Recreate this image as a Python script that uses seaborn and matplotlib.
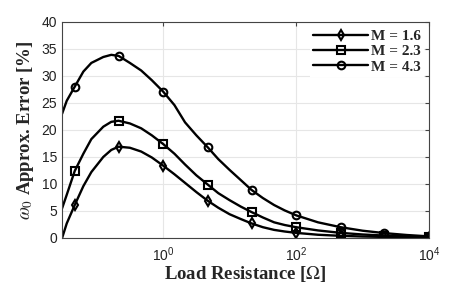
import numpy as np
import pandas as pd
import seaborn as sns
import matplotlib
matplotlib.use("Agg")
import matplotlib.pyplot as plt

# log10 of load resistance where the curves were read
log_r = [-1.52, -1.45, -1.33, -1.2, -1.08, -0.9, -0.78, -0.67, -0.5, -0.33, -0.17,
         0.0, 0.17, 0.33, 0.5, 0.67, 0.83, 1.0, 1.17, 1.33, 1.5, 1.67, 1.83,
         2.0, 2.33, 2.67, 3.0, 3.33, 3.67, 4.0]

err_m16 = [0.0, 2.7, 6.1, 9.6, 12.2, 15.0, 16.3, 16.9, 16.7, 16.0, 14.9,
           13.4, 11.8, 10.2, 8.5, 6.9, 5.6, 4.4, 3.5, 2.7, 2.0, 1.5, 1.2,
           0.95, 0.6, 0.4, 0.27, 0.2, 0.12, 0.08]
err_m23 = [5.5, 8.0, 12.4, 15.6, 18.3, 20.6, 21.5, 21.7, 21.2, 20.3, 19.0,
           17.4, 15.6, 13.6, 11.6, 9.9, 8.3, 7.0, 5.8, 4.8, 3.8, 2.9, 2.4,
           2.0, 1.4, 0.95, 0.65, 0.45, 0.3, 0.2]
err_m43 = [23.0, 25.4, 28.0, 30.8, 32.4, 33.5, 33.9, 33.7, 32.4, 31.0, 29.2,
           27.1, 24.6, 21.4, 19.0, 16.8, 14.6, 12.6, 10.7, 8.9, 7.4, 6.1, 5.1,
           4.2, 2.9, 2.0, 1.35, 0.9, 0.55, 0.3]

labels = ["M = 1.6", "M = 2.3", "M = 4.3"]
markers = ["d", "s", "o"]
mark_at = [-1.33, -0.67, 0.0, 0.67, 1.33, 2.0, 2.67, 3.33, 4.0]

r = 10 ** np.array(log_r)
mark_idx = [log_r.index(v) for v in mark_at]

sns.set_style("whitegrid")
plt.rcParams["mathtext.fontset"] = "stix"

fig = plt.figure(figsize=(4.74, 2.84), dpi=100)
ax = fig.add_axes([0.131, 0.162, 0.774, 0.761])

for lab, mk, ys in zip(labels, markers, [err_m16, err_m23, err_m43]):
    df = pd.DataFrame({"r": r, "err": ys})
    sns.lineplot(data=df, x="r", y="err", ax=ax, color="black", lw=1.7,
                 marker=mk, markevery=mark_idx, markersize=5.5,
                 markerfacecolor="none", markeredgecolor="black",
                 markeredgewidth=1.5, label=lab)

ax.set_xscale("log")
ax.set_xlim(10 ** -1.52, 1e4)
ax.set_ylim(0, 40)
ax.set_xticks([1, 1e2, 1e4])
ax.set_yticks(range(0, 41, 5))
ax.minorticks_off()
ax.grid(True, color="#e6e6e6", lw=0.8)
for s in ax.spines.values():
    s.set_color("#444444")
    s.set_linewidth(0.8)
ax.tick_params(direction="in", length=3, top=True, right=True,
               labelsize=10, colors="#444444", labelcolor="#222222")
ax.tick_params(axis="x", pad=5)
for t in ax.get_xticklabels() + ax.get_yticklabels():
    t.set_family("Liberation Sans")

ax.set_xlabel(r"Load Resistance [$\Omega$]", family="Liberation Serif",
              fontweight="bold", fontsize=13.5, labelpad=0)
ax.set_ylabel(r"$\omega_0$ Approx. Error [%]", family="Liberation Serif",
              fontweight="bold", fontsize=13.5, labelpad=4)

leg = ax.legend(loc="upper right", frameon=True, fancybox=False,
                borderpad=0.2, handlelength=3.6, handletextpad=0.2,
                labelspacing=0.1, borderaxespad=0.3,
                prop={"family": "Liberation Serif", "weight": "bold", "size": 11})
leg.get_frame().set_edgecolor("none")
leg.get_frame().set_facecolor("white")
leg.get_frame().set_alpha(1)

fig.savefig("out.png", dpi=100)
